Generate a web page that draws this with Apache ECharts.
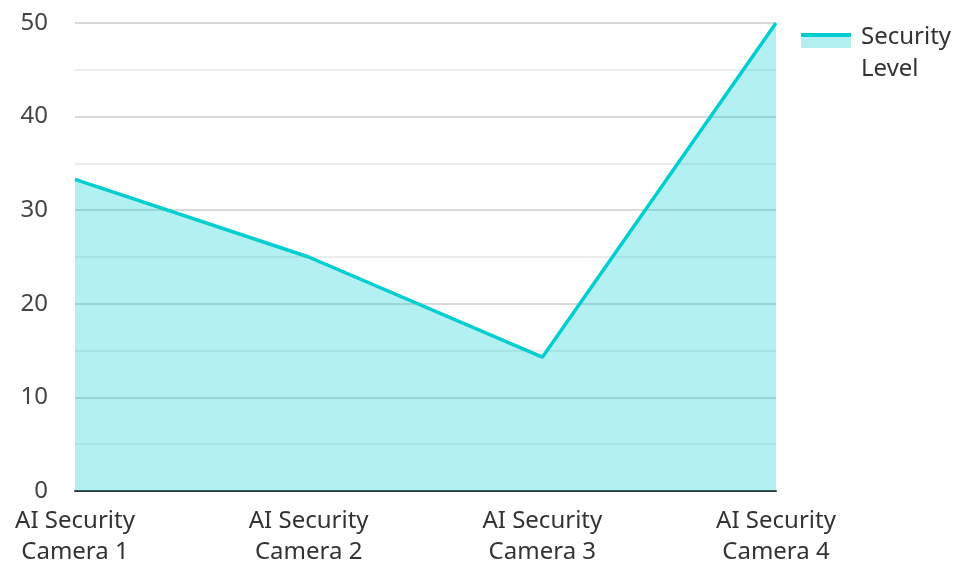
<!DOCTYPE html>
<html><head><meta charset="utf-8">
<script src="https://cdn.jsdelivr.net/npm/echarts@6/dist/echarts.min.js"></script>
<style>html,body{margin:0;padding:0;background:#fff}#c{width:957px;height:563px}</style>
</head><body><div id="c"></div>
<script>
const categories = ["AI Security\nCamera 1", "AI Security\nCamera 2", "AI Security\nCamera 3", "AI Security\nCamera 4"];
const securityLevel = [33.3, 25, 14.3, 50];
const seriesName = "Security Level";

const iconSvg = '<svg xmlns="http://www.w3.org/2000/svg" width="50" height="40" viewBox="0 0 50 40">' +
  '<rect x="0" y="2" width="50" height="13" fill="#b2f0f1"/>' +
  '<rect x="0" y="0" width="50" height="4" fill="#00CED1"/></svg>';
const legendIcon = 'image://data:image/svg+xml;charset=utf-8,' + encodeURIComponent(iconSvg);

const chart = echarts.init(document.getElementById('c'));
const font = "'Noto Sans', 'Open Sans', sans-serif";
chart.setOption({
  animation: false,
  grid: { left: 75, right: 181, top: 23, bottom: 72, containLabel: false, outerBoundsMode: 'none' },
  legend: {
    left: 801, top: 21, orient: 'vertical', padding: 0,
    icon: legendIcon,
    itemWidth: 50, itemHeight: 40,
    textStyle: { fontFamily: font, fontSize: 24, color: '#333', width: 100, overflow: 'break', lineHeight: 32, padding: [0, 0, 0, 5] },
    data: [seriesName]
  },
  xAxis: {
    type: 'category', data: categories, boundaryGap: false,
    axisLine: { lineStyle: { color: '#333', width: 2 } },
    axisTick: { show: false },
    axisLabel: { fontFamily: font, fontSize: 24, color: '#333', lineHeight: 31, margin: 15, interval: 0 }
  },
  yAxis: {
    type: 'value', min: 0, max: 50, interval: 10,
    axisLine: { show: false }, axisTick: { show: false },
    axisLabel: { fontFamily: font, fontSize: 24, color: '#444', margin: 27 },
    splitLine: { lineStyle: { color: '#ccc', width: 1.5 } },
    minorTick: { show: false, splitNumber: 2 },
    minorSplitLine: { show: true, lineStyle: { color: '#e8e8e8', width: 1.5 } }
  },
  series: [{
    name: seriesName, type: 'line', data: securityLevel,
    showSymbol: false, symbol: 'none',
    lineStyle: { color: '#00CED1', width: 3.5 },
    itemStyle: { color: '#00CED1' },
    areaStyle: { color: '#00CED1', opacity: 0.3 }
  }]
});
</script></body></html>
